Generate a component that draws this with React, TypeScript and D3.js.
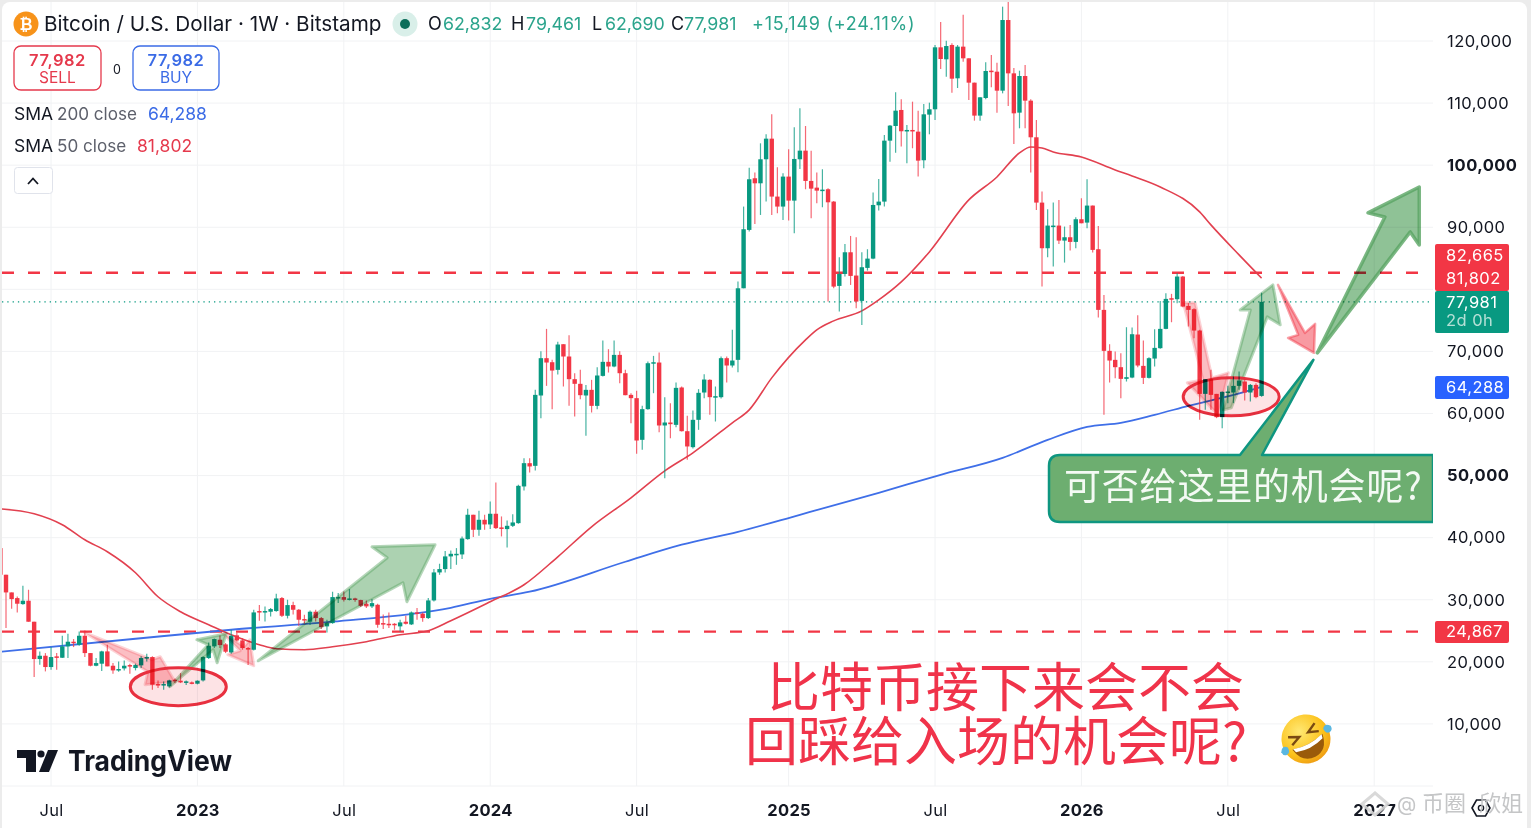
import * as d3 from 'd3';
import { useEffect, useRef } from 'react';

// weekly candles, first row is the cut-off candle on the left edge (week -1), then 10 per row
const opens = [38320,
  34030,31180,30270,29300,29840,26460,20450,20980,19160,20880,
  20660,22490,23240,22750,24200,21410,19370,19700,21680,19370,
  18620,18940,19480,19000,19430,20550,20770,16420,16260,16050,
  17120,16960,16690,16690,16480,17010,20610,22490,23560,22810,
  21520,24260,23450,22220,21950,28180,28010,28070,28180,30270,
  27420,29140,28390,26890,26460,28070,27050,25710,26240,30270,
  30430,30050,30210,29950,29360,28930,29190,26240,26130,26130,
  25710,26460,26030,27960,27750,27050,29890,34400,34940,36980,
  37300,37300,39770,43690,41270,42880,42130,43850,41650,41380,
  41910,42340,48250,52000,51570,62900,68910,68260,67030,71160,
  69180,65530,64780,62900,63810,61230,66060,68320,67570,69440,
  66490,63000,62470,55760,60700,68100,68210,58070,58550,58170,
  64190,57150,54580,58980,63380,65420,62680,62630,68910,67730,
  68640,80170,89570,97890,97080,100950,104270,94940,93330,98160,
  94290,100950,102340,97460,96380,95960,96120,94130,80550,82480,
  85970,82220,78140,83450,84950,93540,94130,103950,106310,108890,
  105560,105670,105400,100790,108140,109000,118980,117050,119360,113990,
  119090,117210,113290,107980,110820,115220,115060,112000,123380,114790,
  108460,114360,110390,104490,93970,86620,90160,90270,87850,88390,
  87640,91290,90750,93490,86460,76690,70090,68640,67460,65580,
  65790,72720,67670,65740,68850,70520,73630,78570,78410,82060,
  77330,76800,73360,63160,65530,63160,59410,63380,63380,64450,
  65150,63380,64610,62832];
const highs = [38320,
  34030,31180,30540,32250,31610,26460,21680,21410,22380,21410,
  24200,24530,23670,24900,25060,21410,20610,21790,22750,19800,
  20070,20230,19700,19700,20880,21310,20880,17010,16850,17120,
  17330,18190,17010,16850,17010,20880,23130,23770,24260,23020,
  25170,24630,23830,22380,28390,29140,28930,28660,30970,30430,
  30000,29680,28500,27580,28280,28390,27210,26780,31290,31070,
  31340,31720,30320,30000,29890,30110,29360,27640,27960,26240,
  26780,27420,28120,28660,27960,30270,34940,35800,37840,37940,
  38320,40200,44650,43690,44330,43690,45830,48890,43420,42770,
  43790,48520,52810,52810,63810,70040,73630,68640,71540,71160,
  72610,66490,67030,64610,65420,67460,71750,70360,71750,70040,
  67030,63270,63650,61230,68370,69280,69820,62630,61660,64990,
  64350,59620,60480,63920,66330,65530,64350,69180,69180,73470,
  81250,93330,99600,98800,103520,104970,108190,99660,98690,102560,
  106100,109160,106310,102340,98800,99340,96280,94240,85170,87310,
  88600,88390,85970,86460,95580,97780,104860,106470,111730,110610,
  106470,110230,108780,109860,110070,119360,123060,120050,119620,119360,
  124240,117210,113290,110930,116560,117740,116510,125530,126330,115650,
  115220,116130,110610,107280,95740,92900,93970,94400,90110,90380,
  91610,94670,97730,93490,90210,79100,71160,69980,69710,73900,
  73840,75830,71750,69070,73580,78140,79370,79270,82590,82160,
  77760,76960,73470,65530,67030,63160,63540,64450,65960,66760,
  65420,64770,64880,79461];
const lows = [34030,
  25440,28550,27960,29190,26460,17550,19530,18460,18730,18730,
  20610,20610,22380,22590,20770,19270,19270,18510,19270,18090,
  18410,18620,18090,18620,19000,20070,15510,15780,15510,15880,
  16580,16580,16260,16370,16370,16850,20450,22220,22220,21410,
  21310,23290,21950,19480,21840,26620,26510,27320,28070,27210,
  26990,27640,25810,26130,25920,26510,25280,24740,26130,29460,
  29730,29890,29680,28820,28660,28660,25490,25280,25440,25170,
  24900,26030,25920,26780,26460,26890,29730,34020,34400,34940,
  35630,36550,39660,40090,40300,41270,41380,41380,40200,38430,
  41700,42240,47600,50500,50820,59250,64450,60700,66280,64350,
  61230,59520,62310,56400,60160,60700,65960,66600,67460,64880,
  62950,58440,53500,54150,60590,63270,56990,49590,56030,57800,
  57100,52540,54360,57370,62470,59780,58710,62410,64990,67410,
  66650,80170,89300,90530,91980,94130,91980,92250,91180,91070,
  89030,99390,96120,91450,93860,93220,78030,80170,76420,82050,
  80710,76960,74270,83020,84850,92680,93330,100570,102020,102990,
  100300,102720,98160,99500,104970,107280,115490,114260,111680,112430,
  116670,110500,107170,107170,110610,112540,108460,111570,109530,103420,
  105940,105940,98800,92790,80440,85170,83670,87310,84310,86240,
  86620,90640,89840,85920,75450,59780,64990,65690,62470,65150,
  65690,67460,64770,65630,67570,70410,73580,74700,77760,77120,
  74010,72130,58980,60590,60590,59250,57640,61660,61660,63810,
  62090,61930,62470,62690];
const closes = [34030,
  31180,30110,29360,29840,26460,20450,20980,19160,20770,20770,
  22490,23240,23020,24200,21410,19370,19800,21680,19270,18620,
  18840,19370,19270,19480,20610,20770,16310,16310,16420,17010,
  16900,16690,16850,16530,16960,20770,22590,23670,22700,21630,
  24200,23450,22220,22060,27960,28070,28180,28500,30210,27420,
  29140,28390,26780,26670,28070,27050,25600,26240,30430,30430,
  30000,30210,30000,29030,28930,29460,25970,26030,25970,25970,
  26350,26130,27960,27850,27050,29890,34400,34940,36980,37400,
  37400,39870,43690,41270,42880,42130,43850,41540,41540,41910,
  42450,48350,52000,51470,63000,68910,68210,66920,71110,69180,
  65530,64780,62950,63810,61230,66120,68320,67570,69440,66490,
  62950,62470,55650,60700,68100,68260,58070,58550,58280,64130,
  57150,54690,58980,63330,65470,62630,62790,68910,67730,68530,
  80170,89680,97730,97080,100950,104270,94940,93330,98160,94290,
  101000,102340,97460,96220,95900,96060,94020,80440,82480,85970,
  82160,78030,83560,84950,93590,94130,103950,106370,108780,105460,
  105670,105560,100730,108190,109000,118980,117100,119190,113930,119090,
  117210,113290,107980,110930,115170,115120,112000,123380,114790,108350,
  114360,110390,104490,93970,86620,90270,90270,87850,88390,87640,
  91290,90640,93490,86350,76690,70090,68530,67460,65580,65850,
  72770,67730,65740,68910,70570,73630,78460,78460,82060,77230,
  76690,73360,63160,65530,63000,59410,63490,63540,64450,65310,
  63380,64610,62630,77981];

// moving averages: [week, price]
const sma50: [number, number][] = [[-1,44650],[5,43850],[10,42080],[14,39660],[18,37730],[23,34350],[27,30480],[31,28070],[36,25980],[40,24360],[45,22760],[48,22110],[53,21950],[58,22430],[64,23240],[70,24360],[75,25010],[79,26620],[86,29680],[92,32410],[98,36920],[104,41750],[111,46420],[117,50770],[122,53670],[129,58500],[132,60590],[136,65740],[142,71860],[144,73470],[147,74920],[152,76530],[155,78300],[159,81200],[164,86030],[171,94400],[176,98100],[180,101970],[182,102930],[184,102770],[186,102130],[191,101320],[197,99230],[200,98260],[205,96490],[212,92470],[214,90380],[219,85550],[223,81802]];
const sma200: [number, number][] = [[-1,21630],[23,23720],[40,25170],[58,26460],[79,28710],[86,30160],[93,31290],[110,36120],[120,38860],[130,40950],[141,43690],[155,47230],[166,50120],[177,52860],[185,55760],[192,57850],[198,58500],[204,59790],[210,61230],[220,63490],[223,64288]];

const priceTicks = [10000,20000,30000,40000,50000,60000,70000,90000,100000,110000,120000];
const boldPrices = [50000,100000];
const timeTicks = [8,34,60,86,112,139,165,191,217,243];
const timeLabels = ['Jul','2023','Jul','2024','Jul','2025','Jul','2026','Jul','2027'];
const gridPrices = d3.range(10000, 130000, 10000);

const levels = [82665, 24867];
const lastClose = 77981;

// hand-drawn arrows, anchored like chart drawings: [week, price]
const redArrows: [number, number][][] = [
  [[14,24690],[25.9,20340],[27.4,20820],[30,16800],[24.7,16320],[25.2,18410]],
  [[38.4,24690],[42.3,22430],[43.3,23560],[44,19370],[39.4,21150],[41.6,21790]],
  [[209.1,77820],[211.2,77820],[214.2,65740],[217.1,66550],[215.3,59780],[209.8,64940],[212.6,65420]],
];
const pinkArrow: [number, number][] = [[225.9,80720],[230.7,72990],[232.5,74440],[232.3,69770],[227.7,72180],[229.5,72670]];
const greenArrows: [number, number][][] = [
  [[29.1,16000],[35.9,22760],[33.9,23560],[39.1,24530],[37.5,19860],[36.8,21950]],
  [[44.8,20180],[67.7,36760],[65,38530],[76.2,38850],[71.2,29680],[70.5,32740]],
  [[216.2,60590],[221,76690],[219.2,76690],[225,80720],[226.3,74280],[224,75560],[217.6,60910]],
];
const bigArrow: [number, number][] = [[232.9,69770],[244.9,91660],[241.9,92310],[251,96490],[251,87150],[249.4,89250]];
const ellipses: [number, number][] = [[30.6,16000],[217.6,62680]];
const calloutTip: [number, number] = [232.2,68640];

const RED = '#f23645';
const GREEN = '#089981';
const BLUE = '#2962ff';
const INK = '#131722';
const FONT = 'Inter, "Noto Sans", sans-serif';
const CJK = '"Noto Sans CJK SC", sans-serif';

const ChartFactory = (container: HTMLElement) => {
  const width = 1531;
  const height = 828;
  const plotRight = 1433;

  const x = d3.scaleLinear().domain([0, 223]).range([6, 1261.6]);
  const y = d3.scaleLinear().domain([0, 120000]).range([786, 41]);
  const fmt = d3.format(',');
  const pt = (p: [number, number]) => [x(p[0]), y(p[1])] as [number, number];

  const svg = d3.select(container).append('svg')
    .attr('width', width)
    .attr('height', height)
    .attr('viewBox', `0 0 ${width} ${height}`)
    .style('position', 'absolute')
    .style('left', 0)
    .style('top', 0)
    .style('font-family', FONT);

  svg.append('rect').attr('width', width).attr('height', height).attr('fill', '#ececec');
  svg.append('rect').attr('x', 2).attr('y', 2).attr('width', 1525).attr('height', 840).attr('rx', 8).attr('fill', '#fff');

  const clip = svg.append('clipPath').attr('id', 'plot');
  clip.append('rect').attr('x', 2).attr('y', 2).attr('width', plotRight - 2).attr('height', 784);

  // grid
  const grid = svg.append('g').attr('stroke', '#f1f2f4').attr('stroke-width', 1);
  grid.selectAll('.h').data(gridPrices).join('line')
    .attr('x1', 2).attr('x2', plotRight).attr('y1', d => y(d)).attr('y2', d => y(d));
  grid.selectAll('.v').data(timeTicks).join('line')
    .attr('x1', d => x(d)).attr('x2', d => x(d)).attr('y1', 2).attr('y2', 786);
  grid.append('line').attr('x1', 2).attr('x2', plotRight).attr('y1', 786).attr('y2', 786);

  const plot = svg.append('g').attr('clip-path', 'url(#plot)');

  // price levels
  plot.selectAll('.level').data(levels).join('line')
    .attr('x1', 2).attr('x2', 1424).attr('y1', d => y(d)).attr('y2', d => y(d))
    .attr('stroke', RED).attr('stroke-width', 2.4).attr('stroke-dasharray', '12 14');
  plot.append('line')
    .attr('x1', 2).attr('x2', plotRight).attr('y1', y(lastClose)).attr('y2', y(lastClose))
    .attr('stroke', GREEN).attr('stroke-width', 1.3).attr('stroke-dasharray', '1.3 4');

  // moving averages
  const maLine = d3.line<[number, number]>().curve(d3.curveMonotoneX).x(d => x(d[0])).y(d => y(d[1]));
  plot.append('path').attr('d', maLine(sma200)).attr('fill', 'none').attr('stroke', '#3f6fe8').attr('stroke-width', 1.8);
  plot.append('path').attr('d', maLine(sma50)).attr('fill', 'none').attr('stroke', '#e2404f').attr('stroke-width', 1.6);

  // candles
  const range = d3.range(opens.length);
  const color = (i: number) => (closes[i] >= opens[i] ? GREEN : RED);
  const candles = plot.selectAll('.candle').data(range).join('g');
  candles.append('line')
    .attr('x1', i => x(i - 1)).attr('x2', i => x(i - 1))
    .attr('y1', i => y(highs[i])).attr('y2', i => y(lows[i]))
    .attr('stroke', color).attr('stroke-width', 1.2).attr('stroke-opacity', 0.75);
  candles.append('rect')
    .attr('x', i => x(i - 1) - 2.2).attr('width', 4.4)
    .attr('y', i => y(Math.max(opens[i], closes[i])))
    .attr('height', i => Math.max(1.5, Math.abs(y(opens[i]) - y(closes[i]))))
    .attr('fill', color);

  // drawings on top, multiplied so the candles stay readable
  const polyLine = d3.line<[number, number]>().x(d => x(d[0])).y(d => y(d[1])).curve(d3.curveLinearClosed);
  const drawings = svg.append('g').style('mix-blend-mode', 'multiply').attr('stroke-linejoin', 'round');
  drawings.selectAll('.red').data(redArrows).join('path')
    .attr('d', d => polyLine(d))
    .attr('fill', 'rgba(242,54,69,0.32)').attr('stroke', 'rgba(242,54,69,0.22)').attr('stroke-width', 3);
  drawings.append('path').attr('d', polyLine(pinkArrow))
    .attr('fill', 'rgba(242,54,69,0.5)').attr('stroke', 'rgba(242,54,69,0.45)').attr('stroke-width', 2.5);
  drawings.selectAll('.green').data(greenArrows).join('path')
    .attr('d', d => polyLine(d))
    .attr('fill', 'rgba(90,165,100,0.5)').attr('stroke', 'rgba(90,165,100,0.45)').attr('stroke-width', 3);
  drawings.append('path').attr('d', polyLine(bigArrow))
    .attr('fill', 'rgba(90,165,100,0.68)').attr('stroke', 'rgba(90,165,100,0.8)').attr('stroke-width', 3.5);
  drawings.selectAll('ellipse').data(ellipses).join('ellipse')
    .attr('cx', d => x(d[0])).attr('cy', d => y(d[1])).attr('rx', 48).attr('ry', 19)
    .attr('fill', 'rgba(242,54,69,0.14)').attr('stroke', '#e8303f').attr('stroke-width', 3);

  // callout bubble
  const tip = pt(calloutTip);
  svg.append('path')
    .attr('d', `M1433,455 H1262 L${tip[0]},${tip[1]} L1240,455 H1060 Q1049,455 1049,466 V511 Q1049,522 1060,522 H1433 Z`)
    .attr('fill', '#6dae70').attr('stroke', '#0e9680').attr('stroke-width', 2.5).attr('stroke-linejoin', 'round');
  svg.append('rect').attr('x', 1433).attr('y', 450).attr('width', 4).attr('height', 78).attr('fill', '#fff');
  svg.append('text').attr('x', 1064).attr('y', 500).text('可否给这里的机会呢?')
    .attr('font-family', CJK).attr('font-size', 37).attr('letter-spacing', 0.8).attr('fill', '#f4faf4');

  // big red caption
  const caption = svg.append('text')
    .attr('font-family', CJK).attr('font-size', 53).attr('fill', '#f0334a');
  caption.append('tspan').attr('x', 767).attr('y', 707).text('比特币接下来会不会');
  caption.append('tspan').attr('x', 745).attr('y', 761).text('回踩给入场的机会呢?');

  // price axis
  const yAxis = d3.axisRight(y).tickValues(priceTicks).tickSize(0).tickPadding(0).tickFormat(d => fmt(d as number));
  const yG = svg.append('g').attr('transform', 'translate(1447,0)').call(yAxis);
  yG.select('.domain').remove();
  yG.selectAll('text')
    .attr('font-family', FONT).attr('font-size', 16.5).attr('letter-spacing', 0.45).attr('fill', INK)
    .attr('font-weight', d => (boldPrices.includes(d as number) ? 700 : 400));

  // time axis
  const xAxis = d3.axisBottom(x).tickValues(timeTicks).tickSize(0).tickPadding(0)
    .tickFormat((d, i) => timeLabels[i]);
  const xG = svg.append('g').attr('transform', 'translate(0,804)').call(xAxis);
  xG.select('.domain').remove();
  xG.selectAll('text')
    .attr('font-family', FONT).attr('font-size', 16.5).attr('letter-spacing', 0.3).attr('fill', INK)
    .attr('font-weight', (d, i) => (/^\d/.test(timeLabels[i]) ? 700 : 400));

  // price tags
  const tag = (top: number, h: number, fill: string) =>
    svg.append('rect').attr('x', 1435).attr('y', top).attr('width', 74).attr('height', h).attr('rx', 2).attr('fill', fill);
  const tagText = (s: string, base: number, fill = '#fff') =>
    svg.append('text').attr('x', 1446).attr('y', base).text(s).attr('font-size', 16.5).attr('letter-spacing', 0.45).attr('fill', fill);
  tag(244, 47, RED);
  tag(291, 42, GREEN);
  tag(376, 23, BLUE);
  tag(621, 22, RED);
  tagText(fmt(levels[0]), 261);
  tagText('81,802', 284);
  tagText(fmt(lastClose), 308);
  tagText('2d 0h', 326, '#b5e0d6');
  tagText('64,288', 393);
  tagText(fmt(levels[1]), 637);

  // header
  svg.append('circle').attr('cx', 26).attr('cy', 24).attr('r', 12.5).attr('fill', '#f7931a');
  svg.append('text').attr('x', 26).attr('y', 30).attr('text-anchor', 'middle').text('₿')
    .attr('font-family', '"DejaVu Sans", sans-serif').attr('font-size', 16).attr('font-weight', 700).attr('fill', '#fff');
  svg.append('text').attr('x', 44).attr('y', 31).text('Bitcoin / U.S. Dollar · 1W · Bitstamp')
    .attr('font-size', 20.7).attr('fill', INK);
  svg.append('circle').attr('cx', 405).attr('cy', 24).attr('r', 12.5).attr('fill', '#d9efe9');
  svg.append('circle').attr('cx', 405).attr('cy', 24).attr('r', 5).attr('fill', '#0b6e5a');

  const ohlcLetters: [string, number][] = [['O', 428], ['H', 511], ['L', 592], ['C', 671]];
  svg.selectAll('.ohlc').data(ohlcLetters).join('text')
    .attr('x', d => d[1]).attr('y', 30).text(d => d[0]).attr('font-size', 18).attr('fill', INK);
  const ohlcValues: [string, number][] = [['62,832', 443], ['79,461', 526], ['62,690', 605], ['77,981', 684]];
  svg.selectAll('.ohlcv').data(ohlcValues).join('text')
    .attr('x', d => d[1]).attr('y', 30).text(d => d[0]).attr('font-size', 17.8).attr('fill', '#2ba48c');
  svg.append('text').attr('x', 752).attr('y', 30).text('+15,149 (+24.11%)')
    .attr('font-size', 18).attr('letter-spacing', 0.75).attr('fill', '#2ba48c');

  // sell / buy boxes
  const orderBox = (left: number, w: number, price: string, label: string, c: string) => {
    svg.append('rect').attr('x', left).attr('y', 46).attr('width', w).attr('height', 44).attr('rx', 7)
      .attr('fill', '#fff').attr('stroke', c).attr('stroke-width', 1.3);
    svg.append('text').attr('x', left + w / 2).attr('y', 66).attr('text-anchor', 'middle').text(price)
      .attr('font-size', 16.5).attr('font-weight', 600).attr('letter-spacing', 0.5).attr('fill', c);
    svg.append('text').attr('x', left + w / 2).attr('y', 83).attr('text-anchor', 'middle').text(label)
      .attr('font-size', 15.5).attr('fill', c);
  };
  orderBox(14, 87, '77,982', 'SELL', '#e5394c');
  orderBox(133, 86, '77,982', 'BUY', '#3b6be6');
  svg.append('text').attr('x', 117).attr('y', 74).attr('text-anchor', 'middle').text('0').attr('font-size', 12.5).attr('fill', INK);

  // indicator legend
  const legend = (base: number, label: string, valueX: number, value: string, c: string) => {
    svg.append('text').attr('x', 14).attr('y', base).text('SMA').attr('font-size', 17.5).attr('fill', INK);
    svg.append('text').attr('x', 57).attr('y', base).text(label).attr('font-size', 17.1).attr('fill', '#5d606b');
    svg.append('text').attr('x', valueX).attr('y', base).text(value).attr('font-size', 17.5).attr('fill', c);
  };
  legend(120, '200 close', 148, '64,288', '#3b6be6');
  legend(152, '50 close', 137, '81,802', '#e5394c');

  svg.append('rect').attr('x', 14.5).attr('y', 167.5).attr('width', 38).attr('height', 26).attr('rx', 3)
    .attr('fill', '#fff').attr('stroke', '#e0e3eb');
  svg.append('path').attr('d', 'M28,184 L33,178.5 L38,184').attr('fill', 'none').attr('stroke', INK).attr('stroke-width', 1.8);

  // TradingView logo
  const logo = svg.append('g').attr('fill', INK);
  logo.append('path').attr('d', 'M17,750 H36 V772 H26 V758 H17 Z');
  logo.append('circle').attr('cx', 41).attr('cy', 754).attr('r', 3.6);
  logo.append('path').attr('d', 'M48,750 H58 L49,772 H39 Z');
  svg.append('text').attr('x', 68).attr('y', 771).text('TradingView')
    .attr('font-size', 28).attr('font-weight', 700).attr('fill', INK)
    .attr('textLength', 164).attr('lengthAdjust', 'spacingAndGlyphs');

  // laughing face
  const face = svg.append('g').attr('transform', 'translate(1306,739) rotate(-28)');
  const grad = svg.append('defs').append('radialGradient').attr('id', 'faceFill').attr('cx', '45%').attr('cy', '30%').attr('r', '75%');
  grad.append('stop').attr('offset', '0%').attr('stop-color', '#ffe873');
  grad.append('stop').attr('offset', '65%').attr('stop-color', '#fcc21b');
  grad.append('stop').attr('offset', '100%').attr('stop-color', '#ec9512');
  face.append('circle').attr('r', 24.5).attr('fill', 'url(#faceFill)');
  face.append('path').attr('d', 'M-15,-10 L-5,-5 L-15,-1').attr('fill', 'none').attr('stroke', '#7a4a12').attr('stroke-width', 2.4);
  face.append('path').attr('d', 'M15,-10 L5,-5 L15,-1').attr('fill', 'none').attr('stroke', '#7a4a12').attr('stroke-width', 2.4);
  face.append('path').attr('d', 'M-17,3 Q0,8 17,3 Q14,20 0,20 Q-14,20 -17,3 Z').attr('fill', '#9a5a0a');
  face.append('path').attr('d', 'M-16,3 Q0,8 16,3 L15,7 Q0,12 -15,7 Z').attr('fill', '#fff');
  face.append('path').attr('d', 'M-28,0 Q-24,-6 -20,-1 Q-20,5 -24,5 Q-28,5 -28,0 Z').attr('fill', '#5bb7e0');
  face.append('path').attr('d', 'M28,0 Q24,-6 20,-1 Q20,5 24,5 Q28,5 28,0 Z').attr('fill', '#5bb7e0');

  // settings hexagon
  svg.append('path').attr('d', 'M1472,808 L1476.5,800 H1485.5 L1490,808 L1485.5,816 H1476.5 Z')
    .attr('fill', 'none').attr('stroke', INK).attr('stroke-width', 1.6);
  svg.append('circle').attr('cx', 1481).attr('cy', 808).attr('r', 2.6).attr('fill', 'none').attr('stroke', INK).attr('stroke-width', 1.4);

  // watermark
  const mark = svg.append('g').attr('fill', '#bfc0c2').attr('opacity', 0.9);
  mark.append('path').attr('d', 'M1375,793 L1388,804 L1375,815 L1362,804 Z').attr('fill', 'none').attr('stroke', '#d5d5d5').attr('stroke-width', 3);
  mark.append('text').attr('x', 1397).attr('y', 811).text('@').attr('font-size', 20);
  mark.append('text').attr('x', 1422).attr('y', 811).text('币圈').attr('font-family', CJK).attr('font-size', 22);
  mark.append('text').attr('x', 1479).attr('y', 811).text('欣姐').attr('font-family', CJK).attr('font-size', 22);

  return svg.node();
};

export default function App() {
  const domRef = useRef<HTMLDivElement>(null);
  useEffect(() => {
    if (domRef.current) {
      ChartFactory(domRef.current);
    }
    return () => {
      d3.select(domRef.current).selectAll('svg').remove();
    };
  }, [domRef]);
  return <div ref={domRef}></div>;
}
